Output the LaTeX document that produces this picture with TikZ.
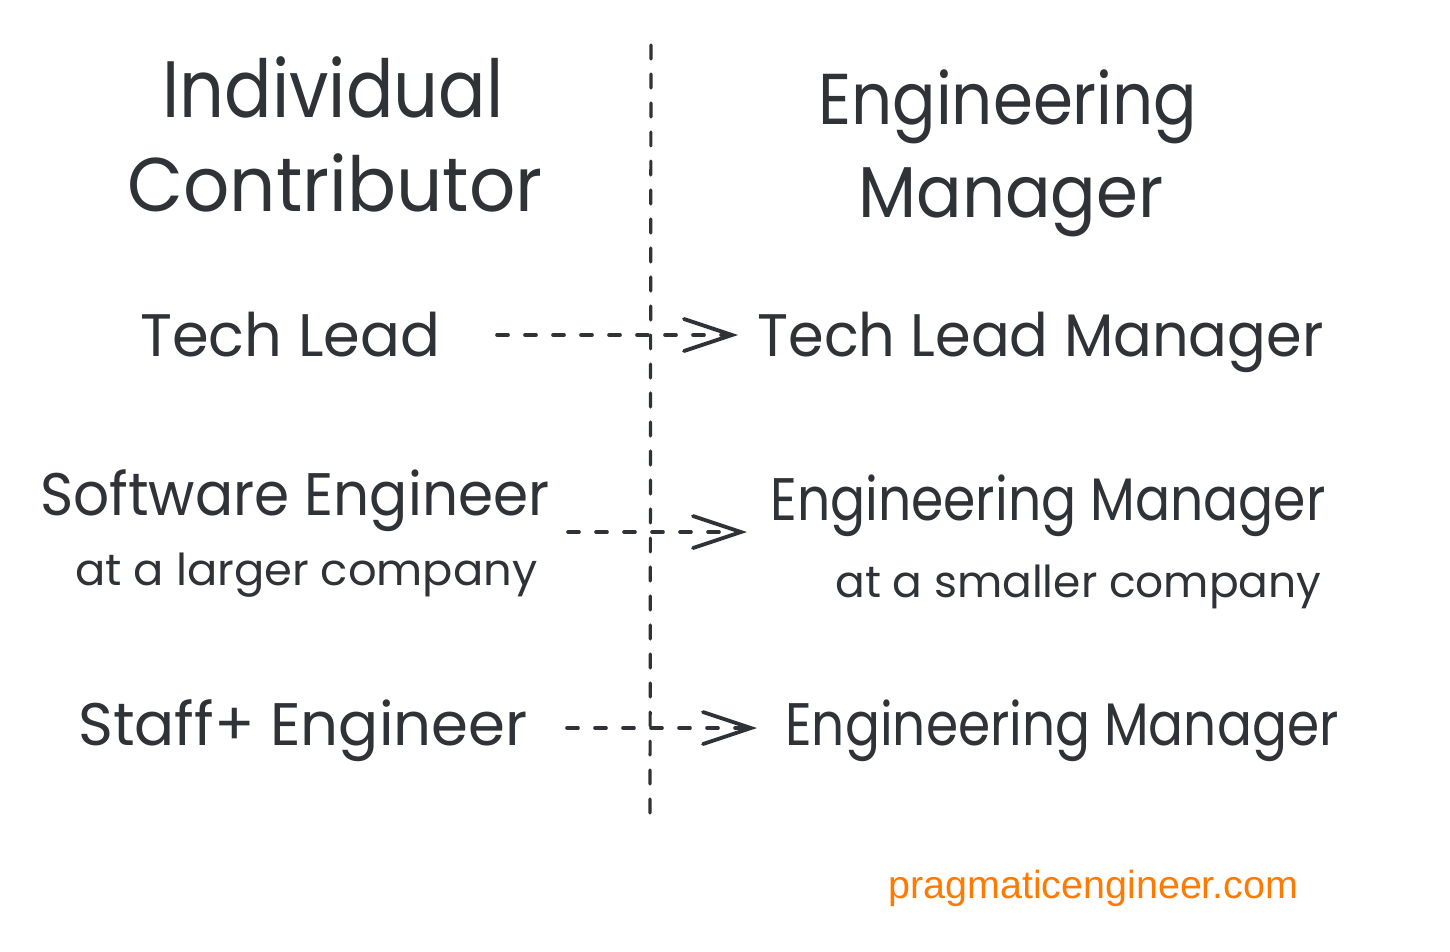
\documentclass[tikz,border=0pt]{standalone}
\usepackage{fontspec}
\usepackage{graphicx}
\setmainfont{Poppins}
\newfontfamily\urlfont{Liberation Sans}
\usetikzlibrary{arrows.meta}
\definecolor{ink}{HTML}{2F3237}
\definecolor{brand}{HTML}{FF7A00}
\newcommand{\hw}[2]{\resizebox{#1}{\height}{#2}}
\tikzset{
  hand/.style={inner sep=0pt, anchor=base west, text=ink},
  divider/.style={draw=ink, line width=1.6pt, line cap=round, dash pattern=on 7pt off 7.5pt},
  flow/.style={draw=ink, line width=1.8pt, line cap=round, dash pattern=on 5.5pt off 8.5pt,
    -{Straight Barb[length=24pt, width=16pt, line width=1.9pt, line cap=round]}},
}
\begin{document}
\begin{tikzpicture}[x=0.5pt, y=-0.5pt]
\useasboundingbox[fill=white] (0,0) rectangle (1450,952);
% headings
\node[hand, font=\fontsize{40}{44}\selectfont] (ind) at (162,118) {\hw{170.5pt}{Individual}};
\node[hand, font=\fontsize{38}{42}\selectfont] (con) at (127,212) {\hw{207.5pt}{Contributor}};
\node[hand, font=\fontsize{36}{40}\selectfont] (eng) at (818,125) {\hw{189.5pt}{Engineering}};
\node[hand, font=\fontsize{36}{40}\selectfont] (man) at (858,218) {\hw{152.5pt}{Manager}};
% rows
\node[hand, font=\fontsize{30}{34}\selectfont] (tl) at (140,356) {\hw{150pt}{Tech Lead}};
\node[hand, font=\fontsize{30}{34}\selectfont] (tlm) at (757,356) {\hw{283pt}{Tech Lead Manager}};
\node[hand, font=\fontsize{30}{34}\selectfont] (se) at (40,515) {\hw{254.5pt}{Software Engineer}};
\node[hand, font=\fontsize{22}{26}\selectfont] (sesub) at (75,585) {\hw{231pt}{at a larger company}};
\node[hand, font=\fontsize{30}{34}\selectfont] (em) at (770,520) {\hw{277.5pt}{Engineering Manager}};
\node[hand, font=\fontsize{22}{26}\selectfont] (emsub) at (835,597) {\hw{243pt}{at a smaller company}};
\node[hand, font=\fontsize{30}{34}\selectfont] (sf) at (78,745) {\hw{224.5pt}{Staff+ Engineer}};
\node[hand, font=\fontsize{30}{34}\selectfont] (em2) at (785,745) {\hw{276.5pt}{Engineering Manager}};
% divider
\coordinate (dtop) at (651,45);
\coordinate (dbot) at (650,824);
\draw[divider] (dtop) -- (dbot);
% arrows
\coordinate (a1s) at (497,335); \coordinate (a1e) at (738,335);
\coordinate (a2s) at (568,532); \coordinate (a2e) at (747,532);
\coordinate (a3s) at (567,728); \coordinate (a3e) at (757,728);
\draw[flow] (a1s) -- (a1e);
\draw[flow] (a2s) -- (a2e);
\draw[flow] (a3s) -- (a3e);
% url
\node[inner sep=0pt, anchor=base west, text=brand, font=\urlfont\fontsize{19.6}{22}\selectfont] (url) at (888,898) {\hw{205pt}{pragmaticengineer.com}};
\end{tikzpicture}
\end{document}
